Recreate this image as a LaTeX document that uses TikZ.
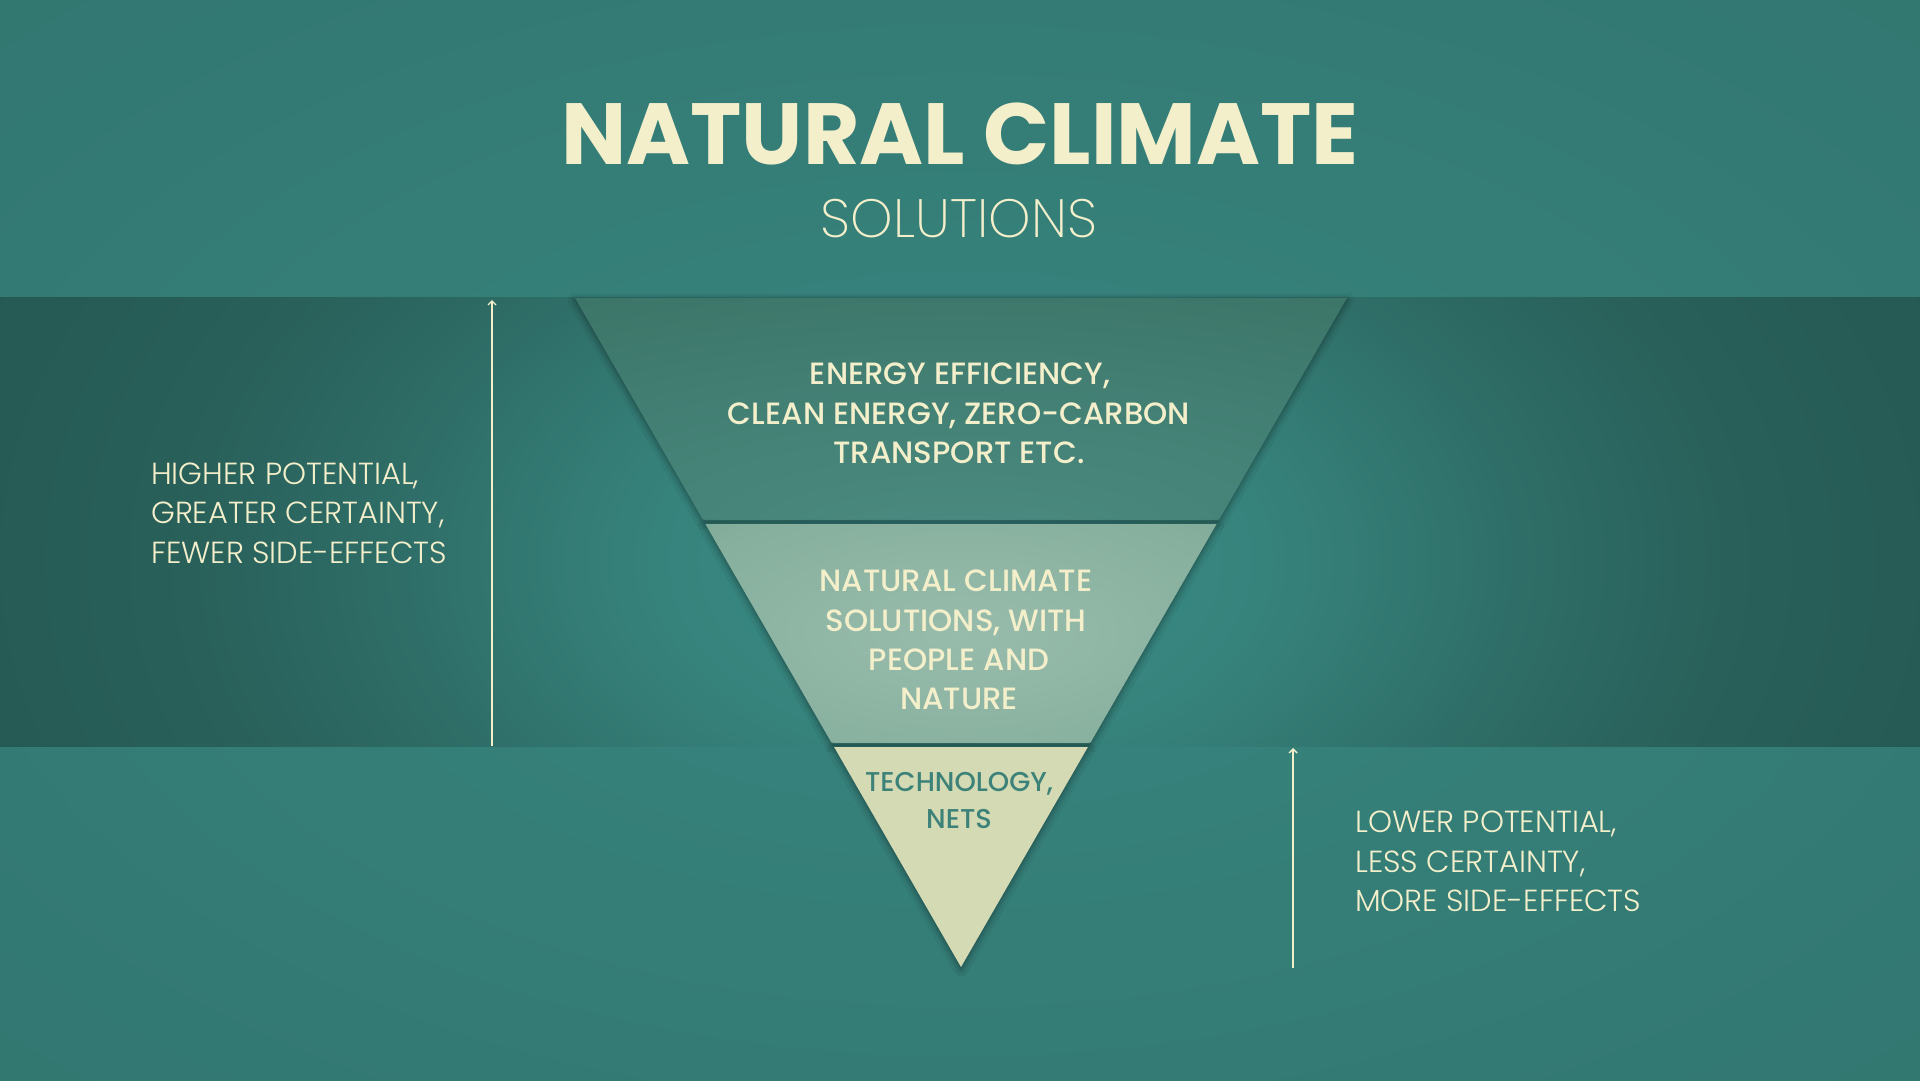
\documentclass[tikz,border=0pt]{standalone}
\usepackage{fontspec}
\setmainfont{Poppins}
\newfontfamily\popL{Poppins Light}
\newfontfamily\popXL{Poppins ExtraLight}
\newfontfamily\popM{Poppins Medium}
\usetikzlibrary{shadows,shadows.blur,arrows.meta}
\definecolor{cream}{HTML}{F4EFCB}
\definecolor{tealtext}{HTML}{3D8279}
\definecolor{bgA}{HTML}{388680}
\definecolor{bgB}{HTML}{347B75}
\definecolor{bgC}{HTML}{31716B}
\definecolor{bgD}{HTML}{2E6A64}
\definecolor{bandA}{HTML}{3B8D87}
\definecolor{bandB}{HTML}{36837C}
\definecolor{bandC}{HTML}{2F6E68}
\definecolor{bandD}{HTML}{29605A}
\definecolor{bandE}{HTML}{23554F}
\definecolor{bandF}{HTML}{215049}
\definecolor{layA}{HTML}{3B7467}
\definecolor{layAl}{HTML}{4C8C82}
\definecolor{layB}{HTML}{73A18E}
\definecolor{layBl}{HTML}{98BCAC}
\definecolor{layC}{HTML}{D3DAB4}
\pgfdeclareradialshading{bgshade}{\pgfpoint{0bp}{0bp}}{color(0bp)=(bgA); color(25bp)=(bgB); color(50bp)=(bgC); color(72bp)=(bgD)}
\pgfdeclareradialshading{bandshade}{\pgfpoint{0bp}{0bp}}{color(0bp)=(bandA); color(8bp)=(bandB); color(14.5bp)=(bandC); color(20bp)=(bandD); color(32bp)=(bandE); color(72bp)=(bandF)}
\pgfdeclareradialshading{layAshade}{\pgfpoint{0bp}{-35bp}}{color(0bp)=(layAl); color(28bp)=(layA!55!layAl); color(48bp)=(layA); color(72bp)=(layA)}
\pgfdeclareradialshading{layBshade}{\pgfpoint{0bp}{0bp}}{color(0bp)=(layBl); color(30bp)=(layB!45!layBl); color(50bp)=(layB); color(72bp)=(layB)}
\tikzset{
  layershadow/.style={blur shadow={shadow xshift=0pt, shadow yshift=-2pt, shadow blur radius=7pt, shadow opacity=45, shadow blur steps=8}},
  creamtext/.style={text=cream, inner sep=0pt, anchor=base},
  tritext/.style={creamtext, font=\popM\fontsize{30.8}{30.8}\selectfont},
  sidetext/.style={creamtext, anchor=base west, font=\popL\fontsize{30.5}{30.5}\selectfont},
  arrowline/.style={draw=cream, line width=1.6pt, -{Straight Barb[length=4pt,width=8pt,line width=1.4pt]}}
}
\begin{document}
\begin{tikzpicture}[x=1pt, y=-1pt]
\useasboundingbox (0,0) rectangle (1920,1080);
% background
\shade[shading=bgshade] (0,0) rectangle (1920,1080);
% dark band with glow
\begin{scope}
\clip (0,297) rectangle (1920,746);
\shade[shading=bandshade] (0,-61) rectangle (1920,1181);
\end{scope}
% triangle layers
\shade[shading=layAshade, layershadow] (575,298) -- (1347,298) -- (1218.9,520) -- (703.1,520) -- cycle;
\shade[shading=layBshade, layershadow] (705.4,524) -- (1216.6,524) -- (1090.3,743) -- (831.7,743) -- cycle;
\fill[layC, layershadow] (834.1,747) -- (1087.9,747) -- (961,967) -- cycle;
% title
\node[creamtext, font=\bfseries\fontsize{86.8}{86.8}\selectfont] (title) at (960,164) {NATURAL CLIMATE};
\node[creamtext, font=\popXL\fontsize{54}{54}\selectfont] (subtitle) at (959,237) {SOLUTIONS};
% top layer text
\node[tritext] (t1) at (960,384) {ENERGY EFFICIENCY,};
\node[tritext] (t2) at (959,424) {CLEAN ENERGY, ZERO-CARBON};
\node[tritext] (t3) at (959,463) {TRANSPORT ETC.};
% middle layer text
\node[tritext] (m1) at (956,591) {NATURAL CLIMATE};
\node[tritext] (m2) at (956,631) {SOLUTIONS, WITH};
\node[tritext] (m3) at (959,670) {PEOPLE AND};
\node[tritext] (m4) at (959,709) {NATURE};
% bottom layer text
\node[creamtext, text=tealtext, font=\popM\fontsize{27.2}{27.2}\selectfont] (b1) at (959,791) {TECHNOLOGY,};
\node[creamtext, text=tealtext, font=\popM\fontsize{27.2}{27.2}\selectfont] (b2) at (959,828) {NETS};
% left text
\node[sidetext] (l1) at (151,484) {HIGHER POTENTIAL,};
\node[sidetext] (l2) at (151,523) {GREATER CERTAINTY,};
\node[sidetext] (l3) at (151,563) {FEWER SIDE-EFFECTS};
% right text
\node[sidetext] (r1) at (1355,832) {LOWER POTENTIAL,};
\node[sidetext] (r2) at (1355,872) {LESS CERTAINTY,};
\node[sidetext] (r3) at (1355,911) {MORE SIDE-EFFECTS};
% arrows
\coordinate (la0) at (492,746);
\coordinate (la1) at (492,300);
\coordinate (ra0) at (1293,968);
\coordinate (ra1) at (1293,748);
\draw[arrowline] (la0) -- (la1);
\draw[arrowline] (ra0) -- (ra1);
\end{tikzpicture}
\end{document}
